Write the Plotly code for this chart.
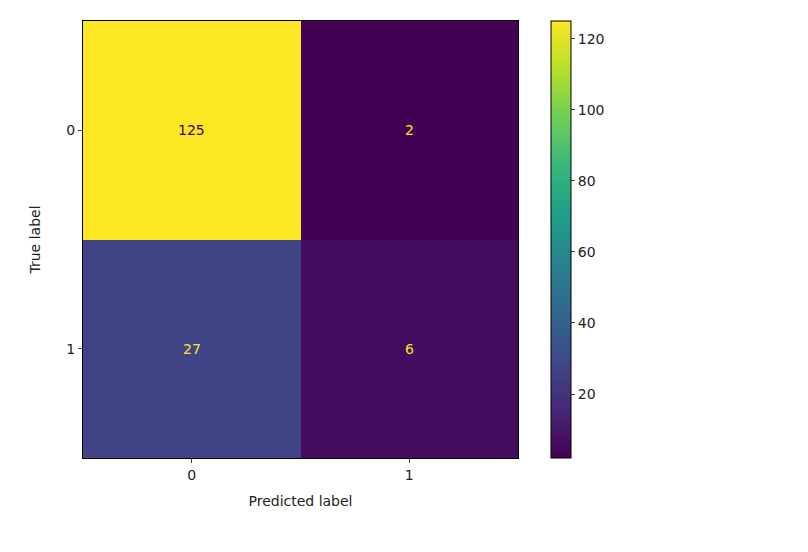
import plotly.graph_objects as go

# confusion matrix values
labels = ["0", "1"]
matrix = [[125, 2],
          [27, 6]]

# text colour: dark on bright cells, yellow on dark cells
mid = (max(max(r) for r in matrix) + min(min(r) for r in matrix)) / 2

fig = go.Figure(go.Heatmap(
    z=matrix,
    x=labels,
    y=labels,
    colorscale="Viridis",
    showscale=True,
    colorbar=dict(
        thickness=20, len=1, lenmode="fraction", x=1.076, xanchor="left",
        y=0, yanchor="bottom", xpad=0, ypad=0,
        outlinewidth=1, outlinecolor="black",
        tickvals=[20, 40, 60, 80, 100, 120], ticks="outside", ticklen=4,
        tickfont=dict(size=14, color="#222"),
    ),
    hoverinfo="skip",
))

for i, row in enumerate(matrix):
    for j, v in enumerate(row):
        fig.add_annotation(
            x=labels[j], y=labels[i], text=str(v), showarrow=False,
            font=dict(size=14, color="#440154" if v > mid else "#fde725"),
        )

axis_style = dict(showline=True, mirror=True, linecolor="black", linewidth=1,
                  ticks="outside", ticklen=4, tickfont=dict(size=14, color="#222"),
                  showgrid=False, zeroline=False)

fig.update_xaxes(title=dict(text="Predicted label", font=dict(size=14, color="#222"), standoff=14), **axis_style)
fig.update_yaxes(title=dict(text="True label", font=dict(size=14, color="#222"), standoff=22),
                 autorange="reversed", **axis_style)

fig.update_layout(
    width=808, height=552,
    margin=dict(l=75, r=298, t=13, b=102),
    plot_bgcolor="white", paper_bgcolor="white",
    font=dict(family="DejaVu Sans"),
)

fig.write_html("out.html")
